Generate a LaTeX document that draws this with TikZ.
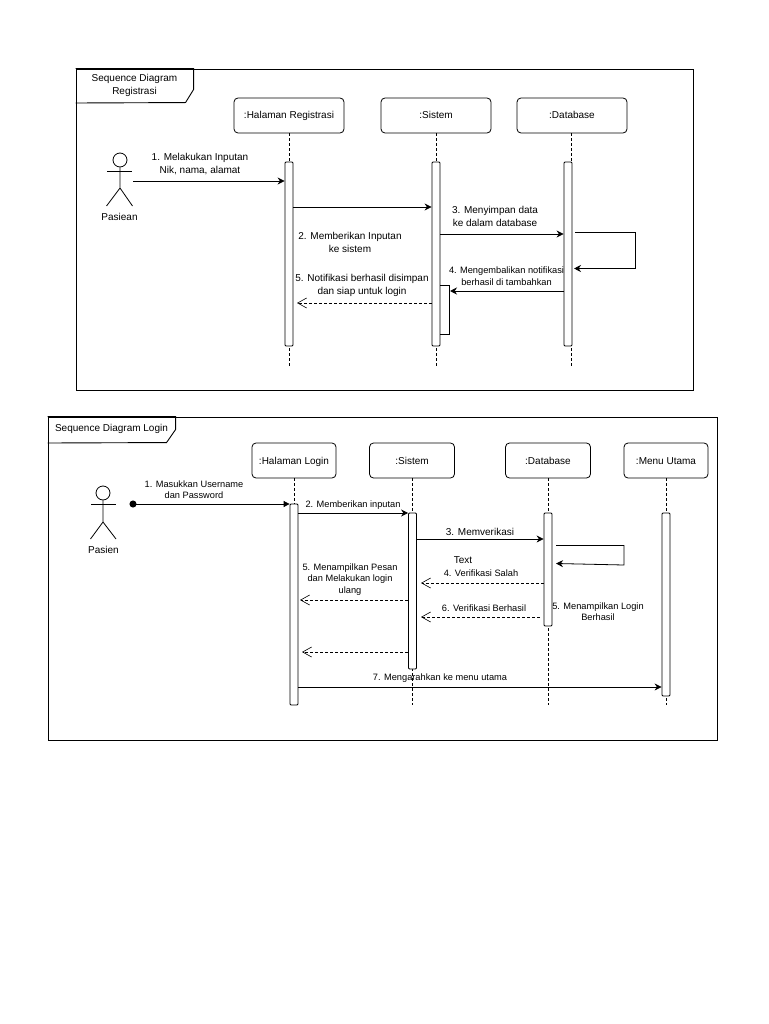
\documentclass[tikz,border=0pt]{standalone}
\usepackage{fontspec}
\setmainfont{Liberation Sans}
\usetikzlibrary{arrows.meta,positioning}
\tikzset{
    txt/.style={align=center,inner sep=0pt,font=\fontsize{10}{13}\selectfont},
    txtsmall/.style={align=center,inner sep=0pt,font=\fontsize{9.25}{12}\selectfont},
    txttight/.style={align=center,inner sep=0pt,font=\fontsize{9.25}{11.5}\selectfont},
    lifebox/.style={rectangle,draw,rounded corners=4pt,line width=0.8pt,inner sep=0pt,minimum height=35pt,text height=7pt,text depth=0pt,font=\fontsize{10}{13}\selectfont},
    lifebar/.style={rectangle,draw,fill=white,rounded corners=1pt,line width=0.8pt,inner sep=0pt,minimum width=8pt},
    lifeline/.style={draw,densely dashed,line width=0.7pt},
    frameline/.style={draw,line width=0.9pt},
    msg/.style={draw,line width=0.8pt,-{Stealth[length=7pt,width=7pt]}},
    reply/.style={draw,densely dashed,line width=0.6pt,-{Straight Barb[length=9pt,width=10pt]}},
    person/.style={draw,line width=0.8pt},
}
\begin{document}
\begin{tikzpicture}[x=1pt,y=-1pt]
    \useasboundingbox (0,0) rectangle (768,1024);
    % registrasi
    \node (frameA) at (384.5,229.5) [rectangle,frameline,minimum width=617pt,minimum height=321pt,inner sep=0pt] {};
    \path [frameline] (frameA.north west) -- ++(118,0) -- ++(0,21) -- ++(-8,13) -- (frameA.west |- 0,103);
    \node (titleA) at (134.5,85) [txt] {Sequence Diagram\\Registrasi};

    \node (halreg) at (289,115.5) [lifebox,minimum width=110pt] {:Halaman Registrasi};
    \node (sisA) at (436,115.5) [lifebox,minimum width=110pt] {:Sistem};
    \node (dbA) at (572,115.5) [lifebox,minimum width=110pt] {:Database};
    \coordinate (endhal) at (289,367);
    \coordinate (endsisA) at (436,367);
    \coordinate (enddbA) at (571.5,367);
    \path [lifeline] (halreg.south) -- (endhal);
    \path [lifeline] (sisA.south) -- (endsisA);
    \path [lifeline] (dbA.south -| enddbA) -- (enddbA);
    \node (barhal) at (289,254) [lifebar,minimum height=184pt] {};
    \node (barsisA) at (436,254) [lifebar,minimum height=184pt] {};
    \node (bardbA) at (568,254) [lifebar,minimum height=184pt] {};

    \node (headA) at (120,160) [circle,person,minimum size=14pt,inner sep=0pt] {};
    \coordinate (hipA) at (120,188);
    \path [person] (headA.south) -- (hipA) -- ++(-13.5,18) (hipA) -- ++(12.5,18);
    \path [person] (107,171) -- (132,171);
    \node (pasiean) at (119.5,217) [txt] {Pasiean};

    \coordinate (startA) at (133,181);
    \path [msg] (startA) -- (barhal.west |- startA);
    \node (m1A) at (200,164) [txt] {1. Melakukan Inputan\\Nik, nama, alamat};
    \path [msg] (barhal.east |- 0,207) -- (barsisA.west |- 0,207);
    \node (m2A) at (350,242.5) [txt] {2. Memberikan Inputan\\ke sistem};
    \path [msg] (barsisA.east |- 0,234) -- (bardbA.west |- 0,234);
    \node (m3A) at (495,216) [txt] {3. Menyimpan data\\ke dalam database};
    \coordinate (loopAa) at (575,232);
    \coordinate (loopAb) at (574,268.5);
    \path [msg] (loopAa) -- (635,232) |- (loopAb);
    \coordinate (backA) at (450,291);
    \path [msg] (bardbA.west |- backA) -- (backA);
    \node (m4A) at (506.5,276) [txtsmall] {4. Mengembalikan notifikasi\\berhasil di tambahkan};
    \path [draw,line width=0.8pt] (barsisA.east |- 0,285.5) -- (449,285.5) -- (449,334.5) -- (barsisA.east |- 0,334.5);
    \path [reply] (barsisA.west |- 0,303) -- (297,303);
    \node (m5A) at (362,285.5) [txt] {5. Notifikasi berhasil disimpan\\dan siap untuk login};

    % login
    \node (frameB) at (382.5,578.5) [rectangle,frameline,minimum width=669pt,minimum height=323pt,inner sep=0pt] {};
    \path [frameline] (frameB.north west) -- ++(128,0) -- ++(0,13) -- ++(-9,13) -- (frameB.west |- 0,443);
    \node (titleB) at (111.5,428.5) [txt] {Sequence Diagram Login};

    \node (hallog) at (294,460.5) [lifebox,minimum width=84pt] {:Halaman Login};
    \node (sisB) at (412,460.5) [lifebox,minimum width=85pt] {:Sistem};
    \node (dbB) at (548,460.5) [lifebox,minimum width=85pt] {:Database};
    \node (menu) at (666,460.5) [lifebox,minimum width=84pt] {:Menu Utama};
    \coordinate (endlog) at (294,705);
    \coordinate (endsisB) at (412,705);
    \coordinate (enddbB) at (548,705);
    \coordinate (endmenu) at (666,705);
    \path [lifeline] (hallog.south) -- (endlog);
    \path [lifeline] (sisB.south) -- (endsisB);
    \path [lifeline] (dbB.south) -- (enddbB);
    \path [lifeline] (menu.south) -- (endmenu);
    \node (barlog) at (294,604.5) [lifebar,minimum height=201pt] {};
    \node (barsisB) at (412.5,591) [lifebar,minimum height=156pt] {};
    \node (bardbB) at (548,569.5) [lifebar,minimum height=113pt] {};
    \node (barmenu) at (666,604.5) [lifebar,minimum height=183pt] {};

    \node (headB) at (103,493) [circle,person,minimum size=14pt,inner sep=0pt] {};
    \coordinate (hipB) at (103,522);
    \path [person] (headB.south) -- (hipB) -- ++(-12.5,17) (hipB) -- ++(13,17);
    \path [person] (91,504) -- (116,504);
    \node (pasien) at (103.5,550) [txt] {Pasien};

    \coordinate (startB) at (129.5,504);
    \path [draw,line width=0.8pt,{Circle[length=7pt]}-{Triangle[length=6pt,width=6pt]}] (startB) -- (barlog.west |- startB);
    \node (m1B) at (194,489.5) [txttight] {1. Masukkan Username\\dan Password};
    \path [msg] (barlog.east |- 0,513) -- (barsisB.west |- 0,513);
    \node (m2B) at (353,505) [txtsmall] {2. Memberikan inputan};
    \path [msg] (barsisB.east |- 0,539) -- (bardbB.west |- 0,539);
    \node (m3B) at (480,532) [txt] {3. Memverikasi};
    \coordinate (loopBa) at (556,545.5);
    \coordinate (loopBb) at (556,563.5);
    \path [msg] (loopBa) -- (624,545.5) -- (624,565) -- (loopBb);
    \node (textB) at (463,560.5) [txt] {Text};
    \coordinate (tipsal) at (421,583);
    \path [reply] (bardbB.west |- tipsal) -- (tipsal);
    \node (m4B) at (481,573) [txtsmall] {4. Verifikasi Salah};
    \coordinate (tippesan) at (300,600);
    \path [reply] (barsisB.west |- tippesan) -- (tippesan);
    \node (m5B) at (350,579.5) [txttight] {5. Menampilkan Pesan\\dan Melakukan login\\ulang};
    \coordinate (startber) at (540,617);
    \coordinate (tipber) at (421,617);
    \path [reply] (startber) -- (tipber);
    \node (m6B) at (484,608) [txtsmall] {6. Verifikasi Berhasil};
    \node (m5Bb) at (598,611.5) [txttight] {5. Menampilkan Login\\Berhasil};
    \coordinate (tipulang) at (302,652);
    \path [reply] (barsisB.west |- tipulang) -- (tipulang);
    \path [msg] (barlog.east |- 0,687) -- (barmenu.west |- 0,687);
    \node (m7B) at (440,678) [txtsmall] {7. Mengarahkan ke menu utama};
\end{tikzpicture}
\end{document}
